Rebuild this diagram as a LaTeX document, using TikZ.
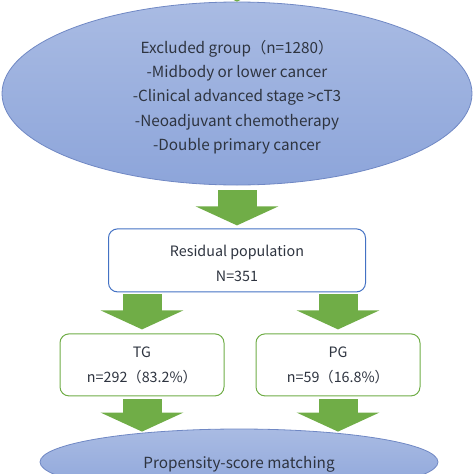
\documentclass[tikz,border=0pt]{standalone}
\usepackage{fontspec}
\setmainfont{Noto Sans CJK SC}
\usetikzlibrary{arrows.meta,positioning,shapes.geometric}
\definecolor{flowblue}{HTML}{4472C4}
\definecolor{flowgreen}{HTML}{70AD47}
\definecolor{ovaltop}{HTML}{A9BBE3}
\definecolor{ovalbot}{HTML}{8DA5DA}
\definecolor{ovaledge}{HTML}{7088C4}
\definecolor{flowtext}{HTML}{2E3440}
\newcommand{\lowerby}[1]{\rule{0pt}{#1}}

\begin{document}
\begin{tikzpicture}[
  x=1pt, y=1pt,
  oval/.style={
    ellipse, draw=ovaledge, line width=0.8pt,
    top color=ovaltop, bottom color=ovalbot, inner sep=0pt,
    align=center, text=flowtext, font=\fontsize{15.3}{24.3}\selectfont
  },
  group/.style={
    rectangle, fill=white, rounded corners=9pt, line width=1pt,
    minimum width=164pt, minimum height=62pt, align=center,
    text=flowtext, font=\fontsize{14.3}{25}\selectfont
  },
  fat/.style={line width=39pt, color=flowgreen, -{Triangle[length=19pt, width=82pt]}},
]
  \useasboundingbox (0,0) rectangle (474,-474);
  \clip (0,0) rectangle (474,-474);

  \node[oval, minimum width=470pt, minimum height=183pt] (excl) at (237,-93.5)
    {\lowerby{20pt}Excluded group（n=1280）\\-Midbody or lower cancer\\-Clinical advanced stage >cT3\\
     -Neoadjuvant chemotherapy\\-Double primary cancer};
  \node[group, draw=flowblue, minimum width=257pt, minimum height=63pt, below=43pt of excl] (resid)
    {\lowerby{18pt}Residual population\\N=351};
  \node[group, draw=flowgreen, below=41pt of resid, xshift=-95pt] (tg) {TG\\n=292（83.2\%）};
  \node[group, draw=flowgreen, below=41pt of resid, xshift=101pt] (pg) {PG\\n=59（16.8\%）};
  \node[oval, minimum width=398pt, minimum height=66pt] (match) at (239,-462)
    {\lowerby{17pt}Propensity-score matching};

  % block arrows
  \draw[fat] (excl.north) ++(0,40) -- (excl.north);
  \draw[fat, shorten <=5pt, shorten >=3pt] (excl.south) -- (resid.north);
  \draw[fat, shorten <=2pt, shorten >=4pt] (resid.south -| tg.north) -- (tg.north);
  \draw[fat, shorten <=2pt, shorten >=4pt] (resid.south -| pg.north) -- (pg.north);
  \draw[fat, shorten <=3pt, shorten >=-3pt] (tg.south) -- (tg.south |- match.north);
  \draw[fat, shorten <=3pt, shorten >=-3pt] (pg.south) -- (pg.south |- match.north);
\end{tikzpicture}
\end{document}
